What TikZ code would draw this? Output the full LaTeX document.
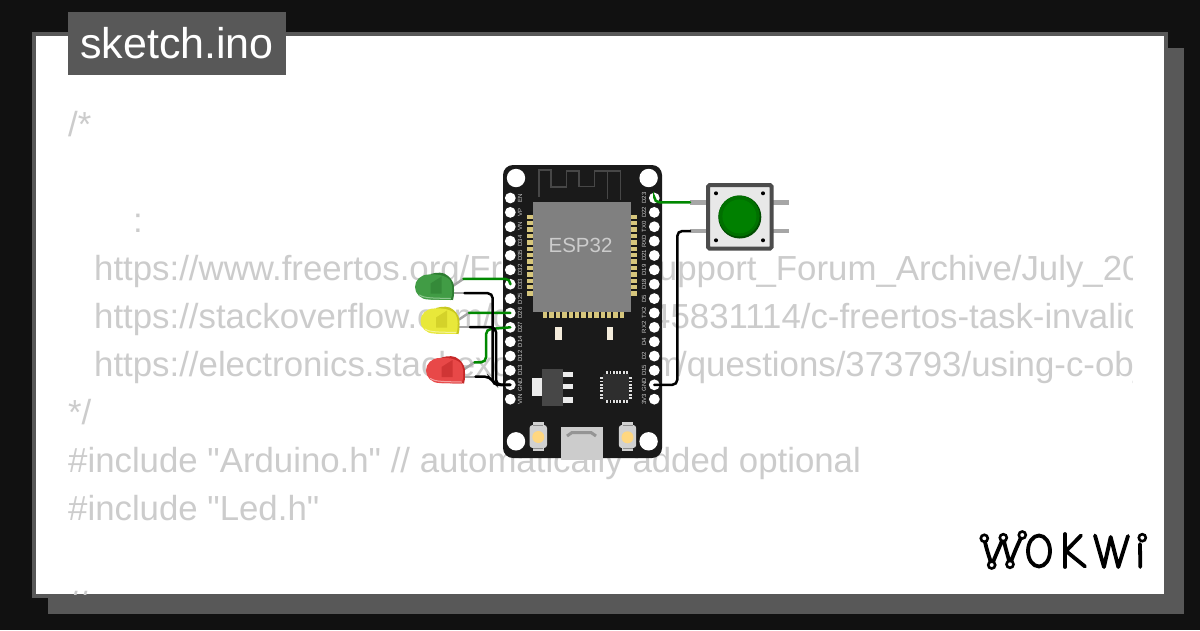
\documentclass[tikz,border=0pt]{standalone}
\usepackage{fontspec}
\newfontfamily\plainfont{Liberation Sans}
\usepackage{tikz}
\usetikzlibrary{positioning}

\definecolor{pagedark}{HTML}{111111}
\definecolor{framegray}{HTML}{585858}
\definecolor{codegray}{HTML}{CCCCCC}
\definecolor{boardblack}{HTML}{1A1A1A}
\definecolor{padgold}{HTML}{D6C67C}
\definecolor{wiregreen}{HTML}{008800}
\definecolor{lampamber}{HTML}{FFD780}
\definecolor{partcream}{HTML}{F4ECDC}
\definecolor{gmain}{HTML}{419C45}
\definecolor{gdark}{HTML}{2E7D32}
\definecolor{gtri}{HTML}{358A39}
\definecolor{glite}{HTML}{8CC68E}
\definecolor{ymain}{HTML}{E8E83A}
\definecolor{ydark}{HTML}{C8C820}
\definecolor{ytri}{HTML}{D4D22A}
\definecolor{ylite}{HTML}{F4F49A}
\definecolor{rmain}{HTML}{E84848}
\definecolor{rdark}{HTML}{C62828}
\definecolor{rtri}{HTML}{D03535}
\definecolor{rlite}{HTML}{F4A0A0}

\newcommand{\drawled}[7]{
  \begin{scope}[shift={(#2,#3)}]
    \draw[ledleg] (19,-1) -- (29,-7.7) coordinate (#1a);
    \draw[ledleg] (19,6.7) -- (30,6.7) coordinate (#1k);
    \fill[#5] (-4,-12.5) .. controls (3,-14.5) and (9,-14.5) .. (13,-11) .. controls (18,-7) and (20,-2) .. (19.5,3) .. controls (19.5,8) and (19.5,11) .. (18.5,13.5) -- (-4,13) -- cycle;
    \fill[#4] (-6,-12) .. controls (-14,-12) and (-19.5,-6) .. (-19.5,0.5) .. controls (-19.5,7) and (-14,13) .. (-6,13) -- (16,13.5) .. controls (18.5,8) and (18.5,-2) .. (15,-7) .. controls (9,-12) and (2,-12.5) .. (-6,-12) -- cycle;
    \fill[#6] (-4,-3) -- (7,-10) -- (7,7) -- (-4,7) -- cycle;
    \draw[#7,line width=1pt,line cap=round] (-15,8.5) .. controls (-10,12) and (0,11.5) .. (16,12);
  \end{scope}
}

\begin{document}
\begin{tikzpicture}[x=1pt,y=-1pt,
    codeline/.style={anchor=base west,inner sep=0pt,text=codegray,font=\plainfont\fontsize{34.8}{35}\selectfont},
    pinhole/.style={circle,fill=white,draw=none,inner sep=0pt,minimum size=10.8pt},
    pinlabel/.style={rotate=90,inner sep=0pt,text=codegray,font=\plainfont\fontsize{6}{6}\selectfont},
    mounthole/.style={circle,fill=white,draw=none,inner sep=0pt,minimum size=18.4pt},
    ledleg/.style={draw=black!35,line width=2.4pt,line cap=round},
    wiregr/.style={draw=wiregreen,line width=2.5pt,rounded corners=5pt,line cap=round},
    wirebk/.style={draw=black,line width=2.5pt,rounded corners=5pt,line cap=round},
    btnleg/.style={draw=black!35,line width=4.6pt},
    strokeline/.style={line width=3.8pt,line cap=round,line join=round},
    logonode/.style={circle,draw=black,fill=white,line width=2.6pt,inner sep=0pt,minimum size=7pt}]
\useasboundingbox (0,0) rectangle (1200,630);
\fill[pagedark] (0,0) rectangle (1200,630);

% frame and its shadow
\fill[framegray] (48,48) rectangle (1184,614);
\fill[framegray] (32,32) rectangle (1168,598);
\fill[white] (36,36) rectangle (1164,594);

% source text behind the board
\begin{scope}
\clip (36,36) rectangle (1132,594);
\node[codeline] (code1) at (68,136) {/*};
\node[codeline] (code2) at (133,232) {:};
\node[codeline] (code3) at (94,280) {https://www.freertos.org/FreeRTOS\kern-21pt\_Support\_Forum\_Archive/July\_2017/freertos};
\node[codeline] (code4) at (94,328) {https://stackoverflow.com/questions/45831114/c-freertos-task-invalid-use};
\node[codeline] (code5) at (94,376) {https://electronics.stackexchange.com\kern-5pt/questions/373793/using-c-objects-in};
\node[codeline] (code6) at (68,424) {*/};
\node[codeline] (code7) at (68,472) {\#include "Arduino.h" // automatically added optional};
\node[codeline] (code8) at (68,520) {\#include "Led.h"};
\node[codeline] (code9) at (68,616) {//};
\end{scope}

% tab
\node[fill=framegray,text=white,font=\plainfont\fontsize{43}{43}\selectfont,minimum width=218pt,minimum height=63pt,inner sep=0pt] (tab) at (177,43.5) {sketch.ino};

% board
\fill[boardblack,rounded corners=10pt] (503,165) rectangle (662,458);
\draw[draw=black!72,line width=1.5pt] (539,197) -- (539,170) -- (551,170) -- (551,187) -- (566.7,187) -- (566.7,171) -- (579,171) -- (579,186.3) -- (594.3,186.3) -- (594.3,171) -- (620.7,171) -- (620.7,200);
\draw[draw=black!72,line width=1.5pt] (607.3,171) -- (607.3,199);
\node[mounthole] (holeA) at (516,178) {};
\node[mounthole] (holeB) at (648.6,178) {};
\node[mounthole] (holeC) at (516,441.3) {};
\node[mounthole] (holeD) at (648.6,441.3) {};
\foreach \i in {0,...,12} {
  \fill[padgold] (527,{214.5+6.4*\i}) rectangle +(6,4.4);
  \fill[padgold] (631,{214.5+6.4*\i}) rectangle +(6,4.4);
  \fill[padgold] ({543+6.4*\i},312) rectangle +(4.4,6);
}
\node[fill=black!50,minimum width=98pt,minimum height=110pt,inner sep=0pt] (module) at (582,257) {};
\node[text=codegray,font=\plainfont\fontsize{20.5}{21}\selectfont] (modname) at (580.5,245) {ESP32};
\foreach \pname [count=\i from 0] in {EN,VP,VN,D34,D35,D32,D33,D25,D26,D27,D14,D12,D13,GND,VIN} {
  \node[pinhole] (l\pname) at (510.3,{198+14.37*\i}) {};
  \node[pinlabel] (lt\pname) at (520,{198+14.37*\i}) {\pname};
}
\foreach \pname [count=\i from 0] in {D23,D22,TX0,RXD,D21,D19,D18,D5,TX2,RX2,D4,D2,D15,GND,3V3} {
  \node[pinhole] (r\pname) at (654.3,{198+14.37*\i}) {};
  \node[pinlabel] (rt\pname) at (644,{198+14.37*\i}) {\pname};
}

% regulator
\fill[black!72] (542.3,369.3) rectangle (563.3,406);
\fill[black!8] (532.3,378.3) rectangle (542.3,395.7);
\foreach \y in {372,384,397.3} \fill[black!8] (563.3,\y) rectangle +(9.4,5.4);
% small parts
\fill[partcream] (555,326.7) rectangle (561.7,340);
\fill[partcream] (607.3,326.7) rectangle (613.3,340);
% chip
\foreach \i in {0,...,6} {
  \fill[black!12] (600.3,{377.2+3.3*\i}) rectangle +(3,1.8);
  \fill[black!12] (629.3,{377.2+3.3*\i}) rectangle +(3,1.8);
  \fill[black!12] ({606.2+3.3*\i},370.8) rectangle +(1.8,3);
  \fill[black!12] ({606.2+3.3*\i},399.6) rectangle +(1.8,3);
}
\fill[black!82] (603.3,374) rectangle (629.3,399.6);
% usb socket
\fill[codegray] (561,427.3) rectangle (602.7,460);
\draw[draw=black!42,line width=3pt] (567,436) -- (572,432.5) -- (591,432.5) -- (596,436);
% boot and enable switches
\foreach \x in {538.3,627.5} {
  \fill[black!18] ({\x-5.5},421.5) rectangle ({\x+5.5},451);
  \fill[black!18,rounded corners=3pt] ({\x-8.7},425) rectangle ({\x+8.7},448);
  \draw[black!45,line width=.6pt] ({\x-5},425) -- ({\x+5},425) ({\x-5},448) -- ({\x+5},448);
}
\node[circle,fill=lampamber,inner sep=0pt,minimum size=12pt] (swA) at (538.3,437) {};
\node[circle,fill=lampamber,inner sep=0pt,minimum size=12pt] (swB) at (627.5,437.3) {};

% leds
\drawled{gled}{434.5}{286.5}{gmain}{gdark}{gtri}{glite}
\drawled{yled}{440}{320.5}{ymain}{ydark}{ytri}{ylite}
\drawled{rled}{445.5}{370}{rmain}{rdark}{rtri}{rlite}

% button
\coordinate (btnA) at (690,202.3);
\coordinate (btnB) at (690,231);
\draw[btnleg] (btnA) -- (707,202.3);
\draw[btnleg] (btnB) -- (707,231);
\draw[btnleg] (773,202.3) -- (789.3,202.3);
\draw[btnleg] (773,231) -- (789.3,231);
\node[draw=black!70,fill=black!9,line width=4pt,rounded corners=1.5pt,inner sep=0pt,minimum width=63.5pt,minimum height=63.5pt] (btn) at (739.8,216.8) {};
\foreach \x/\y in {716/193.3,763/193.3,716/240.3,763/240.3} \fill[black] (\x,\y) circle (2);
\node[circle,fill=green!30!black,inner sep=0pt,minimum size=43pt] (cap) at (739.8,217) {};
\node[circle,fill=green!44!black,inner sep=0pt,minimum size=41pt] (caprim) at (739.1,216) {};
\node[circle,fill=green!50!black,inner sep=0pt,minimum size=34pt] (capin) at (739.4,216.4) {};

% wires
\coordinate (gbend) at (492.7,384.8);
\coordinate (ybend) at (496,384.8);
\coordinate (rbend) at (490,376.7);
\draw[wiregr] (gleda) -| (lD33.center);
\draw[wiregr] (yleda) -- (lD26.center);
\draw[wiregr] (rleda) -| (486,329.3) -- (lD27.center);
\draw[wirebk] (gledk) -| (gbend) -- (lGND.center);
\draw[wirebk] (yledk) -| (ybend) -- (lGND.center);
\draw[wirebk] (rledk) -- (rbend) -- (495,384.8) -- (lGND.center);
\draw[wiregr] (rD23.center) |- (btnA);
\draw[wirebk] (btnB) -| (677.3,384.8) -- (rGND.center);

% logo
\draw[strokeline] (984.3,538.3) .. controls (986,548) and (989,556) .. (991.7,565) -- (1003.3,537.7) .. controls (1005,547) and (1008,556) .. (1010,564.3) .. controls (1014,553) and (1018,544) .. (1022.3,535);
\node[logonode] (logoA) at (984.3,538.3) {};
\node[logonode] (logoB) at (1003.3,537.7) {};
\node[logonode] (logoC) at (1022.3,535) {};
\node[logonode] (logoD) at (991.7,565) {};
\node[logonode] (logoE) at (1010,564.3) {};
\draw[strokeline] (1039,551) ellipse (11 and 15.5);
\draw[strokeline] (1065,534) -- (1065,567);
\draw[strokeline] (1081,535.5) -- (1066,551) -- (1085,566.5);
\draw[strokeline] (1095,535.5) -- (1104,567) -- (1110.7,537) -- (1118.3,567) -- (1128,536);
\draw[strokeline] (1140,544) -- (1140.3,567);
\node[logonode] (logoF) at (1142.3,537.7) {};
\end{tikzpicture}
\end{document}
